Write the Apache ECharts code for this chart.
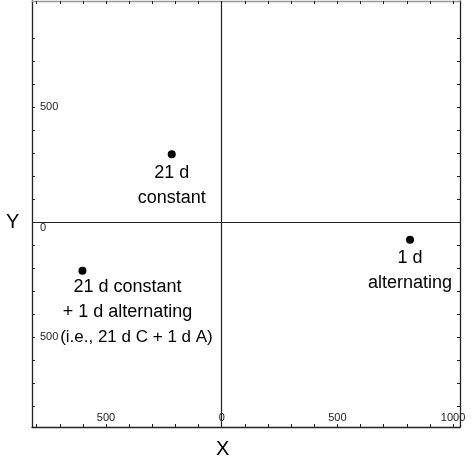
<!DOCTYPE html>
<html>
<head>
<meta charset="UTF-8">
<title>X-Y</title>
<style>
    html, body { margin: 0; padding: 0; background: #fff; }
    #chart { width: 474px; height: 475px; }
</style>
</head>
<body>
<div id="chart"></div>
<script src="https://cdn.jsdelivr.net/npm/echarts@6/dist/echarts.min.js"></script>
<script>
    // points
    var pointNames = ['21 d\nconstant', '1 d\nalternating', '21 d constant\n+ 1 d alternating\n(i.e., 21 d C + 1 d A)'];
    var pointX = [-216, 814, -602];
    var pointY = [295, -77, -211];

    // ticks every 100, labels every 500
    var xTicks = [-800, -700, -600, -500, -400, -300, -200, -100, 0, 100, 200, 300, 400, 500, 600, 700, 800, 900, 1000];
    var xLabels = [-500, 0, 500, 1000];
    var yTicks = [-800, -700, -600, -500, -400, -300, -200, -100, 0, 100, 200, 300, 400, 500, 600, 700, 800];
    var yLabels = [-500, 0, 500];

    var font = '"Liberation Sans", Arial, Helvetica, sans-serif';
    var lineColor = '#222';

    function edgeAxis(pos, ticks, labels, isX) {
        var ax = {
            type: 'value',
            position: pos,
            min: isX ? -820 : -890,
            max: isX ? 1030 : 960,
            splitLine: { show: false },
            axisLine: { show: true, onZero: false, lineStyle: { color: pos === 'top' ? '#999' : lineColor, width: 1.3 } },
            axisTick: { show: true, inside: true, length: 3, customValues: ticks, lineStyle: { color: lineColor, width: 1 } },
            axisLabel: { show: false }
        };
        if (labels) {
            ax.axisLabel = {
                show: true,
                inside: true,
                customValues: labels,
                margin: isX ? 4 : 8,
                fontSize: 11,
                fontFamily: font,
                color: '#222',
                formatter: function (v) {
                    if (!isX && v === 0) return '{z|0}';
                    return String(Math.abs(v));
                },
                rich: {
                    z: { fontSize: 11, fontFamily: font, color: '#222', padding: [12, 0, 0, 0] }
                }
            };
        }
        return ax;
    }

    var data = [];
    for (var i = 0; i < pointNames.length; i++) {
        var item = { name: pointNames[i], value: [pointX[i], pointY[i]] };
        if (i === 2) item.label = { offset: [45, -2] };
        data.push(item);
    }

    var chart = echarts.init(document.getElementById('chart'));
    chart.setOption({
        animation: false,
        grid: { left: 32, top: 1, width: 428, height: 426, containLabel: false },
        xAxis: [
            edgeAxis('bottom', xTicks, xLabels, true),
            edgeAxis('top', xTicks, null, true)
        ],
        yAxis: [
            edgeAxis('left', yTicks, yLabels, false),
            edgeAxis('right', yTicks, null, false)
        ],
        graphic: [
            { type: 'text', left: 6, top: 212, style: { text: 'Y', font: '20px ' + font, fill: '#000' } },
            { type: 'text', left: 216, top: 439, style: { text: 'X', font: '20px ' + font, fill: '#000' } }
        ],
        series: [{
            type: 'scatter',
            symbolSize: 8,
            itemStyle: { color: '#000', opacity: 1 },
            label: {
                show: true,
                position: 'bottom',
                distance: 2,
                formatter: function (p) {
                    var lines = p.name.split('\n');
                    // the long bracket line sits a little right, clear of the 500 label
                    if (lines.length > 2) lines[2] = '{s|' + lines[2] + '}';
                    return lines.join('\n');
                },
                fontSize: 18,
                lineHeight: 25,
                fontFamily: font,
                color: '#000',
                align: 'center',
                rich: {
                    s: { fontSize: 17, lineHeight: 25, fontFamily: font, color: '#000', padding: [0, 0, 0, 18] }
                }
            },
            data: data,
            markLine: {
                silent: true,
                symbol: 'none',
                label: { show: false },
                lineStyle: { type: 'solid', color: lineColor, width: 1.2 },
                data: [{ xAxis: 0 }, { yAxis: 0 }]
            }
        }]
    });
</script>
</body>
</html>
